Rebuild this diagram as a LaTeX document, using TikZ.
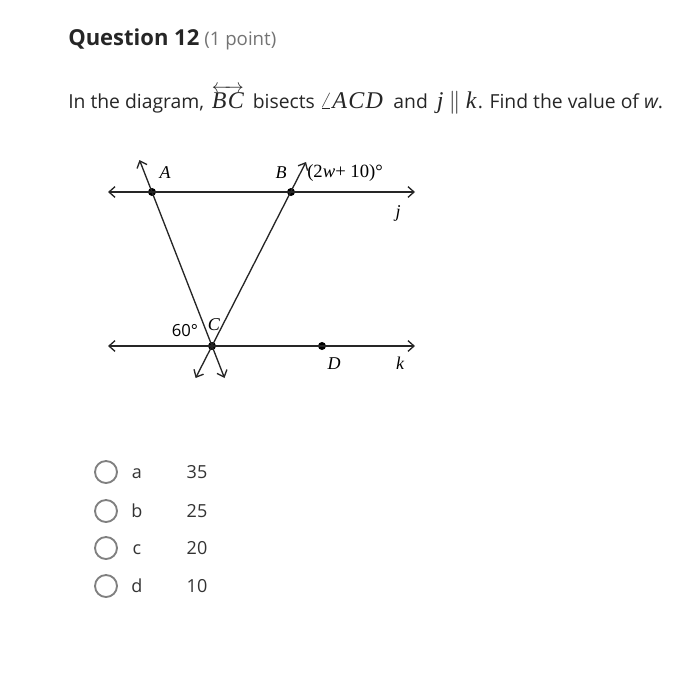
\documentclass[tikz,border=0pt]{standalone}
\usepackage{amsmath}
\usepackage{fontspec}
\setmainfont{Open Sans}
\newfontfamily\figfont{Liberation Serif}
\usetikzlibrary{positioning,arrows.meta}
\newcommand{\mth}[1]{{\figfont\itshape\fontsize{18}{20}\selectfont #1}}
\tikzset{
  line/.style={draw=black!85, line width=1pt, {Straight Barb[length=4.5pt,width=8pt]}-{Straight Barb[length=4.5pt,width=8pt]}},
  pt/.style={circle, fill=black, inner sep=0pt, minimum size=6pt},
  lbl/.style={font=\figfont\itshape\fontsize{13.5}{15}\selectfont},
  radio/.style={circle, draw=black!50, line width=1.4pt, minimum size=16.5pt, inner sep=0pt},
  choice/.style={font=\fontsize{13.5}{16}\selectfont, text=black!80, anchor=base}
}
\begin{document}
\begin{tikzpicture}[x=0.75pt,y=-0.75pt]
	\useasboundingbox (0,0) rectangle (672,700);
	% heading
	\node[anchor=base west, inner sep=0pt, font=\bfseries\fontsize{16.5}{20}\selectfont, text=black!85] (title) at (68,45) {Question 12};
	\node[anchor=base west, inner sep=0pt, font=\fontsize{14}{17}\selectfont, text=black!55] (points) at (204,45) {(1 point)};
	\node[anchor=base west, inner sep=0pt, font=\fontsize{14.5}{17}\selectfont, text=black!85] (task) at (68,108)
		{In the diagram, \hspace{2pt}$\overleftrightarrow{\hbox{\mth{B\kern1pt C}}}$\hspace{3pt} bisects {\fontsize{18}{20}\selectfont$\angle$}\mth{A\kern1pt C\kern1pt D}\hspace{4pt} and \hspace{3pt}\mth{j}\hspace{4pt}{\fontsize{17}{18}\selectfont$\parallel$}\hspace{4pt}\mth{k}\hspace{1pt}. Find the value of \textit{w}.};
	% points on the lines
	\node[pt] (A) at (152,192) {};
	\node[pt] (B) at (291,192) {};
	\node[pt] (C) at (212,346) {};
	\node[pt] (D) at (322,346) {};
	\coordinate (jl) at (108,192);
	\coordinate (jr) at (415,192);
	\coordinate (kl) at (108,346);
	\coordinate (kr) at (415,346);
	\coordinate (a1) at (139.5,160);
	\coordinate (a2) at (224.5,378);
	\coordinate (b1) at (306,162);
	\coordinate (b2) at (195.6,378);
	\draw[line] (jl) -- (jr);
	\draw[line] (kl) -- (kr);
	\draw[line] (a1) -- (a2);
	\draw[line] (b1) -- (b2);
	% labels
	\node[lbl] (lA) at (165,173) {A};
	\node[lbl] (lB) at (281,173) {B};
	\node[anchor=west, inner sep=0pt, font=\figfont\fontsize{14}{15}\selectfont] (angB) at (307,173) {(2\textit{w}+ 10)°};
	\node[lbl] (lj) at (398,213) {j};
	\node[font=\fontsize{12.5}{14}\selectfont] (angC) at (185,331) {60°};
	\node[lbl] (lC) at (214,325) {C};
	\node[lbl] (lD) at (334,364) {D};
	\node[lbl] (lk) at (400,363) {k};
	% choices
	\foreach \y/\l/\v [count=\i] in {472/a/35, 511/b/25, 548/c/20, 586/d/10} {
		\node[radio] (r\i) at (106,\y) {};
		\node[choice] (l\i) at (137,\y+6) {\l};
		\node[choice] (v\i) at (197,\y+6) {\v};
	}
\end{tikzpicture}
\end{document}
